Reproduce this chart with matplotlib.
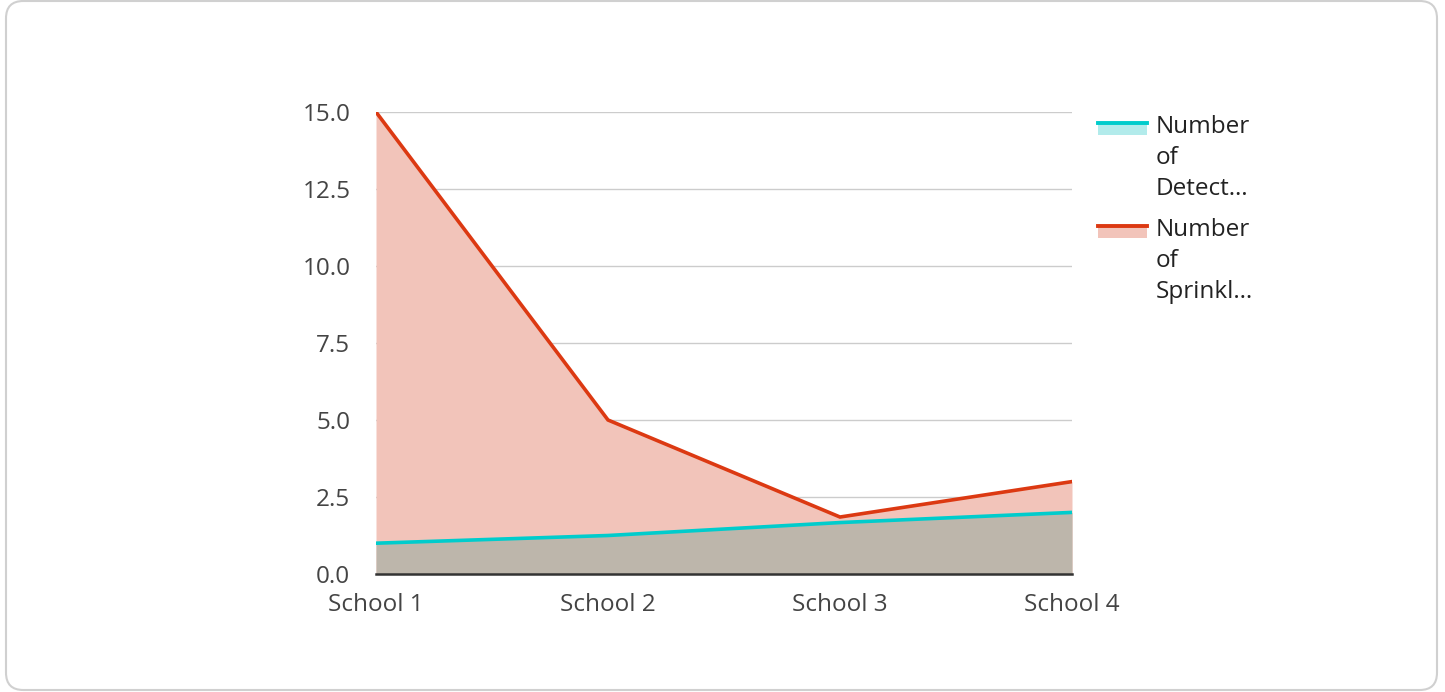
import matplotlib.pyplot as plt
from matplotlib.patches import FancyBboxPatch, Rectangle
from matplotlib.lines import Line2D

plt.rcParams['font.family'] = ['Open Sans', 'DejaVu Sans']

schools = ['School 1', 'School 2', 'School 3', 'School 4']
detectors = [1.0, 1.25, 1.67, 2.0]
sprinklers = [15.0, 5.0, 1.85, 3.0]
y_ticks = [0, 2.5, 5, 7.5, 10, 12.5, 15]
legend_labels = ['Number\nof\nDetect…', 'Number\nof\nSprinkl…']

W, H = 1445, 692
fig = plt.figure(figsize=(W / 100, H / 100), dpi=100)
fig.patch.set_facecolor('white')

# rounded card border
fig.add_artist(FancyBboxPatch((6 / W, 2 / H), (W - 14) / W, (H - 3) / H,
                              boxstyle='round,pad=0,rounding_size=0.012',
                              transform=fig.transFigure, facecolor='none',
                              edgecolor='#d0d0d0', lw=1.5, mutation_aspect=W / H))

ax = fig.add_axes([376 / W, 1 - 574 / H, (1072 - 376) / W, (574 - 112) / H])
x = list(range(len(schools)))

ax.fill_between(x, 0, sprinklers, color='#f2c4ba', lw=0, zorder=1)
ax.fill_between(x, 0, detectors, color='#bdb6ab', lw=0, zorder=2)
ax.plot(x, sprinklers, color='#dc3912', lw=2.6, zorder=4, solid_joinstyle='miter')
ax.plot(x, detectors, color='#00cccc', lw=2.6, zorder=4)

ax.set_xlim(0, 3)
ax.set_ylim(0, 15)
ax.set_yticks(y_ticks)
ax.set_yticklabels([f'{v:.1f}' for v in y_ticks])
ax.set_xticks(x)
ax.set_xticklabels(schools)
ax.grid(axis='y', color='#cccccc', lw=1, zorder=0)
ax.set_axisbelow(True)
for s in ['top', 'right', 'left']:
    ax.spines[s].set_visible(False)
ax.spines['bottom'].set_color('#333333')
ax.spines['bottom'].set_linewidth(1.8)
ax.spines['bottom'].set_zorder(5)
ax.tick_params(axis='both', length=0, labelsize=17.5, colors='#444444')
ax.tick_params(axis='y', pad=18.5)
ax.tick_params(axis='x', pad=13.5)
ax.set_facecolor('none')

# legend drawn by hand
legend_colors = [('#00cccc', '#b2ebeb'), ('#dc3912', '#f2c4ba')]
for i, (lab, (lc, fc)) in enumerate(zip(legend_labels, legend_colors)):
    y_line = 123 + i * 103
    fig.add_artist(Rectangle((1098 / W, 1 - (y_line + 12) / H), 49 / W, 12 / H,
                             transform=fig.transFigure, color=fc, lw=0))
    fig.add_artist(Line2D([1098 / W, 1147 / W], [1 - y_line / H] * 2,
                          transform=fig.transFigure, color=lc, lw=2.8))
    fig.text(1156 / W, 1 - (y_line - 8) / H, lab, fontsize=17.5, color='#222222',
             va='top', ha='left', linespacing=1.39)

fig.savefig('out.png', dpi=100, facecolor='white')
